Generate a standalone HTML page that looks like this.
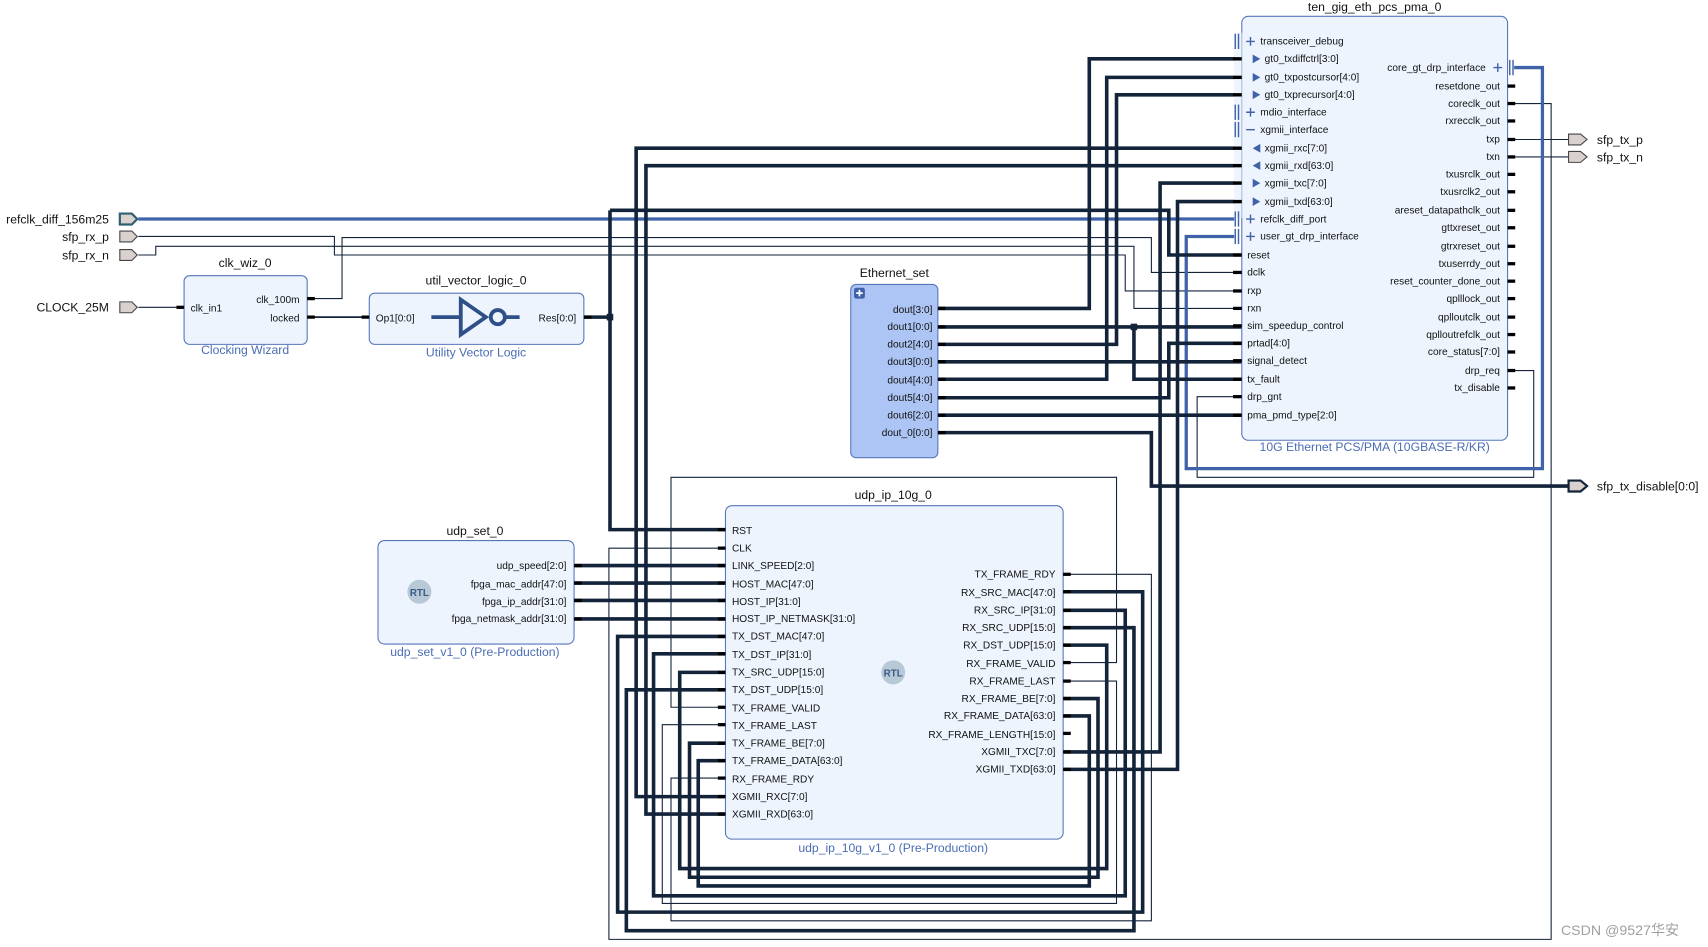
<!DOCTYPE html>
<html><head><meta charset="utf-8"><style>
html,body{margin:0;padding:0;background:#fff;}
svg{display:block;}
text{font-family:"Liberation Sans","Noto Sans CJK SC",sans-serif;fill:#111;}
.p{font-size:9.3px;}
.t{font-size:11.2px;}
.s{font-size:11.2px;fill:#4a6db3;}
.w{stroke:#13233a;stroke-width:3.3;fill:none;}
.n{stroke:#13233a;stroke-width:1;fill:none;}
.m{stroke:#13233a;stroke-width:1.6;fill:none;}
.b{stroke:#3f62a8;stroke-width:3;fill:none;}
.box{fill:#edf4fe;stroke:#5676bb;stroke-width:1;}
.port{fill:#d9d1cd;stroke:#444;stroke-width:1;}
.stub{fill:#000;}
.arr{fill:#3f62a8;}
</style></head><body>
<svg width="1708" height="947" viewBox="0 0 1568 869" preserveAspectRatio="none" xmlns="http://www.w3.org/2000/svg">

<path class="n" d="M127 282H169"/>
<path class="m" d="M282 291H339"/>
<path class="n" d="M282 274H314V218H1057V250H1140"/>
<path class="n" d="M127 217H307V234H1033V267H1140"/>
<path class="n" d="M127 234H143V226H1041V283H1140"/>
<path class="n" d="M1390 340H1408V438H1099V364H1140"/>
<path class="n" d="M1390 95H1424V862H559V503H666"/>
<path class="n" d="M1390 128H1440"/>
<path class="n" d="M1390 144H1440"/>
<path class="n" d="M976 608H1025V438H616V649H666"/>
<path class="n" d="M976 625H1025V829H608V665H666"/>
<path class="n" d="M976 527H1057V845H616V714H666"/>
<path class="b" d="M127 201H1133"/>
<path class="b" d="M1133 217H1089V430H1416V62H1390"/>
<path class="w" d="M536 291H560"/>
<path class="w" d="M560 193V486H666"/>
<path class="w" d="M560 193H1073V234H1140"/>
<rect x="557" y="288" width="6" height="6" fill="#13233a"/>
<path class="w" d="M861 283H1000V54H1140"/>
<path class="w" d="M861 348H1016V71H1140"/>
<path class="w" d="M861 316H1025V87H1140"/>
<path class="w" d="M861 300H1140"/>
<path class="w" d="M1041 300V348H1140"/>
<rect x="1038" y="297" width="6" height="6" fill="#13233a"/>
<path class="w" d="M861 332H1140"/>
<path class="w" d="M861 365H1073V315H1140"/>
<path class="w" d="M861 381H1140"/>
<path class="w" d="M861 397H1057V446H1440"/>
<path class="w" d="M1140 136H584V731H666"/>
<path class="w" d="M1140 152H593V747H666"/>
<path class="w" d="M976 690H1065V168H1140"/>
<path class="w" d="M976 706H1081V185H1140"/>
<path class="w" d="M527 519H666"/>
<path class="w" d="M527 535H666"/>
<path class="w" d="M527 551H666"/>
<path class="w" d="M527 568H666"/>
<path class="w" d="M976 543H1049V837H567V584H666"/>
<path class="w" d="M976 560H1033V822H600V600H666"/>
<path class="w" d="M976 576H1041V854H575V633H666"/>
<path class="w" d="M976 592H1016V797H624V617H666"/>
<path class="w" d="M976 641H1008V805H633V682H666"/>
<path class="w" d="M976 657H1000V813H641V698H666"/>

<path d="M110 196H121L126 201L121 206H110Z" fill="#d9d1cd" stroke="#2e5f70" stroke-width="2"/>
<text class="t" x="100" y="205" text-anchor="end">refclk_diff_156m25</text>
<path class="port" d="M110 212H121L126 217L121 222H110Z"/>
<text class="t" x="100" y="221" text-anchor="end">sfp_rx_p</text>
<path class="port" d="M110 229H121L126 234L121 239H110Z"/>
<text class="t" x="100" y="238" text-anchor="end">sfp_rx_n</text>
<path class="port" d="M110 277H121L126 282L121 287H110Z"/>
<text class="t" x="100" y="286" text-anchor="end">CLOCK_25M</text>
<path class="port" d="M1440 123H1451L1457 128L1451 133H1440Z"/>
<text class="t" x="1466" y="132">sfp_tx_p</text>
<path class="port" d="M1440 139H1451L1457 144L1451 149H1440Z"/>
<text class="t" x="1466" y="148">sfp_tx_n</text>
<path d="M1440 441H1451L1457 446L1451 451H1440Z" fill="#d9d1cd" stroke="#13233a" stroke-width="2"/>
<text class="t" x="1466" y="450">sfp_tx_disable[0:0]</text>

<text class="t" x="225" y="245" text-anchor="middle">clk_wiz_0</text>
<rect class="box" x="169" y="253" width="113" height="63" rx="5"/>
<rect class="stub" x="162" y="280.5" width="7" height="3"/>
<rect class="stub" x="282" y="272.5" width="7" height="3"/>
<rect class="stub" x="282" y="289.5" width="7" height="3"/>
<text class="p" x="175" y="286">clk_in1</text>
<text class="p" x="275" y="278" text-anchor="end">clk_100m</text>
<text class="p" x="275" y="295" text-anchor="end">locked</text>
<text class="s" x="225" y="325" text-anchor="middle">Clocking Wizard</text>

<text class="t" x="437" y="261" text-anchor="middle">util_vector_logic_0</text>
<rect class="box" x="339" y="269" width="197" height="47" rx="5"/>
<rect class="stub" x="332" y="289.5" width="7" height="3"/>
<rect class="stub" x="536" y="289.5" width="7" height="3"/>
<text class="p" x="345" y="295">Op1[0:0]</text>
<text class="p" x="529" y="295" text-anchor="end">Res[0:0]</text>
<path d="M396 291H423M423 275L446 291L423 307Z M465 291H477" stroke="#2e4f87" stroke-width="3.5" fill="none"/>
<circle cx="457" cy="291" r="6.5" stroke="#2e4f87" stroke-width="3.5" fill="none"/>
<text class="s" x="437" y="327" text-anchor="middle">Utility Vector Logic</text>

<text class="t" x="821" y="254" text-anchor="middle">Ethernet_set</text>
<rect x="781" y="261" width="80" height="159" rx="5" fill="#adc5f4" stroke="#5676bb"/>
<rect x="784" y="264" width="10" height="10" rx="2" fill="#3f62a8"/>
<path d="M789 266V272M786 269H792" stroke="#fff" stroke-width="1.6"/>
<text class="p" x="856" y="287" text-anchor="end">dout[3:0]</text>
<text class="p" x="856" y="303" text-anchor="end">dout1[0:0]</text>
<text class="p" x="856" y="319" text-anchor="end">dout2[4:0]</text>
<text class="p" x="856" y="335" text-anchor="end">dout3[0:0]</text>
<text class="p" x="856" y="352" text-anchor="end">dout4[4:0]</text>
<text class="p" x="856" y="368" text-anchor="end">dout5[4:0]</text>
<text class="p" x="856" y="384" text-anchor="end">dout6[2:0]</text>
<text class="p" x="856" y="400" text-anchor="end">dout_0[0:0]</text>
<g fill="#000">
<rect x="861" y="281.5" width="7" height="3"/><rect x="861" y="298.5" width="7" height="3"/>
<rect x="861" y="314.5" width="7" height="3"/><rect x="861" y="330.5" width="7" height="3"/>
<rect x="861" y="346.5" width="7" height="3"/><rect x="861" y="363.5" width="7" height="3"/>
<rect x="861" y="379.5" width="7" height="3"/><rect x="861" y="395.5" width="7" height="3"/>
</g>

<text class="t" x="436" y="491" text-anchor="middle">udp_set_0</text>
<rect class="box" x="347" y="496" width="180" height="95" rx="6"/>
<circle cx="385" cy="543" r="11" fill="#b7c9d6"/>
<text x="385" y="547" text-anchor="middle" style="font-size:9px;font-weight:bold;fill:#3a5a88">RTL</text>
<text class="p" x="520" y="522" text-anchor="end">udp_speed[2:0]</text>
<text class="p" x="520" y="539" text-anchor="end">fpga_mac_addr[47:0]</text>
<text class="p" x="520" y="555" text-anchor="end">fpga_ip_addr[31:0]</text>
<text class="p" x="520" y="571" text-anchor="end">fpga_netmask_addr[31:0]</text>
<g fill="#000">
<rect x="527" y="517.5" width="7" height="3"/><rect x="527" y="533.5" width="7" height="3"/>
<rect x="527" y="549.5" width="7" height="3"/><rect x="527" y="566.5" width="7" height="3"/>
</g>
<text class="s" x="436" y="602" text-anchor="middle">udp_set_v1_0 (Pre-Production)</text>

<text class="t" x="820" y="458" text-anchor="middle">udp_ip_10g_0</text>
<rect class="box" x="666" y="464" width="310" height="306" rx="6"/>
<circle cx="820" cy="617" r="11" fill="#b7c9d6"/>
<text x="820" y="621" text-anchor="middle" style="font-size:9px;font-weight:bold;fill:#3a5a88">RTL</text>
<text class="p" x="672" y="490">RST</text>
<text class="p" x="672" y="506">CLK</text>
<text class="p" x="672" y="522">LINK_SPEED[2:0]</text>
<text class="p" x="672" y="539">HOST_MAC[47:0]</text>
<text class="p" x="672" y="555">HOST_IP[31:0]</text>
<text class="p" x="672" y="571">HOST_IP_NETMASK[31:0]</text>
<text class="p" x="672" y="587">TX_DST_MAC[47:0]</text>
<text class="p" x="672" y="604">TX_DST_IP[31:0]</text>
<text class="p" x="672" y="620">TX_SRC_UDP[15:0]</text>
<text class="p" x="672" y="636">TX_DST_UDP[15:0]</text>
<text class="p" x="672" y="653">TX_FRAME_VALID</text>
<text class="p" x="672" y="669">TX_FRAME_LAST</text>
<text class="p" x="672" y="685">TX_FRAME_BE[7:0]</text>
<text class="p" x="672" y="701">TX_FRAME_DATA[63:0]</text>
<text class="p" x="672" y="718">RX_FRAME_RDY</text>
<text class="p" x="672" y="734">XGMII_RXC[7:0]</text>
<text class="p" x="672" y="750">XGMII_RXD[63:0]</text>
<text class="p" x="969" y="530" text-anchor="end">TX_FRAME_RDY</text>
<text class="p" x="969" y="547" text-anchor="end">RX_SRC_MAC[47:0]</text>
<text class="p" x="969" y="563" text-anchor="end">RX_SRC_IP[31:0]</text>
<text class="p" x="969" y="579" text-anchor="end">RX_SRC_UDP[15:0]</text>
<text class="p" x="969" y="595" text-anchor="end">RX_DST_UDP[15:0]</text>
<text class="p" x="969" y="612" text-anchor="end">RX_FRAME_VALID</text>
<text class="p" x="969" y="628" text-anchor="end">RX_FRAME_LAST</text>
<text class="p" x="969" y="644" text-anchor="end">RX_FRAME_BE[7:0]</text>
<text class="p" x="969" y="660" text-anchor="end">RX_FRAME_DATA[63:0]</text>
<text class="p" x="969" y="677" text-anchor="end">RX_FRAME_LENGTH[15:0]</text>
<text class="p" x="969" y="693" text-anchor="end">XGMII_TXC[7:0]</text>
<text class="p" x="969" y="709" text-anchor="end">XGMII_TXD[63:0]</text>
<g fill="#000">
<rect x="659" y="484.5" width="7" height="3"/><rect x="659" y="501.5" width="7" height="3"/>
<rect x="659" y="517.5" width="7" height="3"/><rect x="659" y="533.5" width="7" height="3"/>
<rect x="659" y="549.5" width="7" height="3"/><rect x="659" y="566.5" width="7" height="3"/>
<rect x="659" y="582.5" width="7" height="3"/><rect x="659" y="598.5" width="7" height="3"/>
<rect x="659" y="615.5" width="7" height="3"/><rect x="659" y="631.5" width="7" height="3"/>
<rect x="659" y="647.5" width="7" height="3"/><rect x="659" y="663.5" width="7" height="3"/>
<rect x="659" y="680.5" width="7" height="3"/><rect x="659" y="696.5" width="7" height="3"/>
<rect x="659" y="712.5" width="7" height="3"/><rect x="659" y="729.5" width="7" height="3"/>
<rect x="659" y="745.5" width="7" height="3"/>
<rect x="976" y="525.5" width="7" height="3"/><rect x="976" y="541.5" width="7" height="3"/>
<rect x="976" y="558.5" width="7" height="3"/><rect x="976" y="574.5" width="7" height="3"/>
<rect x="976" y="590.5" width="7" height="3"/><rect x="976" y="606.5" width="7" height="3"/>
<rect x="976" y="623.5" width="7" height="3"/><rect x="976" y="639.5" width="7" height="3"/>
<rect x="976" y="655.5" width="7" height="3"/><rect x="976" y="671.5" width="7" height="3"/>
<rect x="976" y="688.5" width="7" height="3"/><rect x="976" y="704.5" width="7" height="3"/>
</g>
<text class="s" x="820" y="782" text-anchor="middle">udp_ip_10g_v1_0 (Pre-Production)</text>

<text class="t" x="1262" y="10" text-anchor="middle">ten_gig_eth_pcs_pma_0</text>
<rect class="box" x="1140" y="15" width="244" height="389" rx="6"/>
<rect x="1133" y="30" width="8" height="170" fill="#e3eefc" opacity="0.6"/>
<g stroke="#3f62a8" stroke-width="1.3">
<path d="M1134 31V45M1137 31V45"/>
<path d="M1134 96V110M1137 96V110"/>
<path d="M1134 112V126M1137 112V126"/>
<path d="M1134 194V208M1137 194V208"/>
<path d="M1134 210V224M1137 210V224"/>
<path d="M1386 55V69M1389 55V69"/>
<path d="M1144 38H1152M1148 34V42"/>
<path d="M1144 103H1152M1148 99V107"/>
<path d="M1144 119H1152"/>
<path d="M1144 201H1152M1148 197V205"/>
<path d="M1144 217H1152M1148 213V221"/>
<path d="M1371 62H1379M1375 58V66"/>
</g>
<g class="arr">
<path d="M1150 50L1157 54L1150 58Z"/>
<path d="M1150 67L1157 71L1150 75Z"/>
<path d="M1150 83L1157 87L1150 91Z"/>
<path d="M1157 132L1150 136L1157 140Z"/>
<path d="M1157 148L1150 152L1157 156Z"/>
<path d="M1150 164L1157 168L1150 172Z"/>
<path d="M1150 181L1157 185L1150 189Z"/>
</g>
<text class="p" x="1157" y="41">transceiver_debug</text>
<text class="p" x="1161" y="57">gt0_txdiffctrl[3:0]</text>
<text class="p" x="1161" y="74">gt0_txpostcursor[4:0]</text>
<text class="p" x="1161" y="90">gt0_txprecursor[4:0]</text>
<text class="p" x="1157" y="106">mdio_interface</text>
<text class="p" x="1157" y="122">xgmii_interface</text>
<text class="p" x="1161" y="139">xgmii_rxc[7:0]</text>
<text class="p" x="1161" y="155">xgmii_rxd[63:0]</text>
<text class="p" x="1161" y="171">xgmii_txc[7:0]</text>
<text class="p" x="1161" y="188">xgmii_txd[63:0]</text>
<text class="p" x="1157" y="204">refclk_diff_port</text>
<text class="p" x="1157" y="220">user_gt_drp_interface</text>
<text class="p" x="1145" y="237">reset</text>
<text class="p" x="1145" y="253">dclk</text>
<text class="p" x="1145" y="270">rxp</text>
<text class="p" x="1145" y="286">rxn</text>
<text class="p" x="1145" y="302">sim_speedup_control</text>
<text class="p" x="1145" y="318">prtad[4:0]</text>
<text class="p" x="1145" y="334">signal_detect</text>
<text class="p" x="1145" y="351">tx_fault</text>
<text class="p" x="1145" y="367">drp_gnt</text>
<text class="p" x="1145" y="384">pma_pmd_type[2:0]</text>
<text class="p" x="1364" y="65" text-anchor="end">core_gt_drp_interface</text>
<text class="p" x="1377" y="82" text-anchor="end">resetdone_out</text>
<text class="p" x="1377" y="98" text-anchor="end">coreclk_out</text>
<text class="p" x="1377" y="114" text-anchor="end">rxrecclk_out</text>
<text class="p" x="1377" y="131" text-anchor="end">txp</text>
<text class="p" x="1377" y="147" text-anchor="end">txn</text>
<text class="p" x="1377" y="163" text-anchor="end">txusrclk_out</text>
<text class="p" x="1377" y="179" text-anchor="end">txusrclk2_out</text>
<text class="p" x="1377" y="196" text-anchor="end">areset_datapathclk_out</text>
<text class="p" x="1377" y="212" text-anchor="end">gttxreset_out</text>
<text class="p" x="1377" y="229" text-anchor="end">gtrxreset_out</text>
<text class="p" x="1377" y="245" text-anchor="end">txuserrdy_out</text>
<text class="p" x="1377" y="261" text-anchor="end">reset_counter_done_out</text>
<text class="p" x="1377" y="277" text-anchor="end">qplllock_out</text>
<text class="p" x="1377" y="294" text-anchor="end">qplloutclk_out</text>
<text class="p" x="1377" y="310" text-anchor="end">qplloutrefclk_out</text>
<text class="p" x="1377" y="326" text-anchor="end">core_status[7:0]</text>
<text class="p" x="1377" y="343" text-anchor="end">drp_req</text>
<text class="p" x="1377" y="359" text-anchor="end">tx_disable</text>
<g fill="#000">
<rect x="1132" y="52.5" width="8" height="3"/><rect x="1132" y="69.5" width="8" height="3"/>
<rect x="1132" y="85.5" width="8" height="3"/><rect x="1132" y="134.5" width="8" height="3"/>
<rect x="1132" y="150.5" width="8" height="3"/><rect x="1132" y="166.5" width="8" height="3"/>
<rect x="1132" y="183.5" width="8" height="3"/><rect x="1132" y="232.5" width="8" height="3"/>
<rect x="1132" y="248.5" width="8" height="3"/><rect x="1132" y="265.5" width="8" height="3"/>
<rect x="1132" y="281.5" width="8" height="3"/><rect x="1132" y="297.5" width="8" height="3"/>
<rect x="1132" y="313.5" width="8" height="3"/><rect x="1132" y="329.5" width="8" height="3"/>
<rect x="1132" y="346.5" width="8" height="3"/><rect x="1132" y="362.5" width="8" height="3"/>
<rect x="1132" y="379.5" width="8" height="3"/>
<rect x="1384" y="77.5" width="7" height="3"/><rect x="1384" y="93.5" width="7" height="3"/>
<rect x="1384" y="109.5" width="7" height="3"/><rect x="1384" y="126.5" width="7" height="3"/>
<rect x="1384" y="142.5" width="7" height="3"/><rect x="1384" y="158.5" width="7" height="3"/>
<rect x="1384" y="174.5" width="7" height="3"/><rect x="1384" y="191.5" width="7" height="3"/>
<rect x="1384" y="207.5" width="7" height="3"/><rect x="1384" y="224.5" width="7" height="3"/>
<rect x="1384" y="240.5" width="7" height="3"/><rect x="1384" y="256.5" width="7" height="3"/>
<rect x="1384" y="272.5" width="7" height="3"/><rect x="1384" y="289.5" width="7" height="3"/>
<rect x="1384" y="305.5" width="7" height="3"/><rect x="1384" y="321.5" width="7" height="3"/>
<rect x="1384" y="338.5" width="7" height="3"/><rect x="1384" y="354.5" width="7" height="3"/>
</g>
<text class="s" x="1262" y="414" text-anchor="middle">10G Ethernet PCS/PMA (10GBASE-R/KR)</text>

<text x="1433" y="858" style="font-size:13px;fill:#a0a0a0">CSDN @9527华安</text>
</svg>
</body></html>
